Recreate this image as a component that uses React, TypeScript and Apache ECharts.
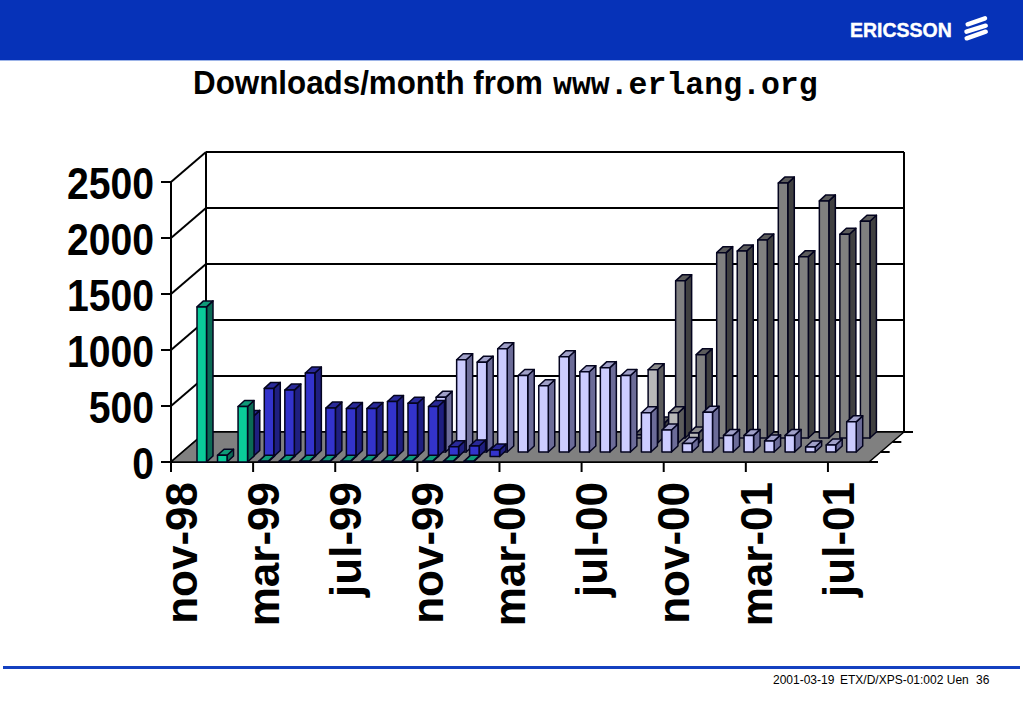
import React, { useEffect, useRef } from "react";
import * as echarts from "echarts";

const months = ["nov-98","dec-98","jan-99","feb-99","mar-99","apr-99","maj-99","jun-99","jul-99","aug-99","sep-99","okt-99","nov-99","dec-99","jan-00","feb-00","mar-00","apr-00","maj-00","jun-00","jul-00","aug-00","sep-00","okt-00","nov-00","dec-00","jan-01","feb-01","mar-01","apr-01","maj-01","jun-01","jul-01","aug-01"];
const yTicks = [0, 500, 1000, 1500, 2000, 2500];

// one list per depth row, front to back, starting at nov-98
const greenValues = [1385, 60, 496, 6, 6, 6, 6, 6, 6, 6, 6, 6, 6, 6];
const blueValues = [null, null, 358, 608, 593, 746, 432, 428, 428, 491, 475, 447, 88, 94, 58];
const lavenderValues = [null, null, null, null, null, null, null, null, null, null, null, 488, 824, 802, 922, 683, 591, 851, 717, 753, 683, 350, 197, 76, 354, 148, 148, 99, 148, 45, 63, 269];
const silverValues = [null, null, null, null, null, null, null, null, null, null, null, null, null, null, null, null, null, null, null, null, null, 654, 269, 90];
const greyValues = [null, null, null, null, null, null, null, null, null, null, null, null, null, null, null, null, null, null, null, null, 30, 135, 1403, 744, 1655, 1670, 1768, 2276, 1619, 2117, 1819, 1935];

const LEFT = 171, RIGHT = 154, TOP = 182, BOTTOM = 708 - 462;
const WALL_DX = 35, WALL_DY = 30;
const BAR_W = 9.5, BAR_DX = 6.5, BAR_DY = 6, BAR_LEAD = 26;
const OUTLINE = "#04041f";
const INK = "#000";

function rowSeries(name: string, values: (number | null)[], dx: number, dy: number, front: string, side: string, top: string, z: number) {
  return {
    type: "custom", name, z, silent: true, clip: false,
    data: values.map((v, i) => (v === null ? [i, "-"] : [i, v])),
    encode: { x: 0, y: 1 },
    renderItem: (_p: any, api: any) => {
      const v = api.value(1);
      if (isNaN(v)) return null;
      const i = api.value(0);
      const band = api.size([1, 0])[0];
      const base = api.coord([i, 0]);
      const peak = api.coord([i, v]);
      const x = base[0] - band / 2 + BAR_LEAD + dx;
      const y0 = base[1] - dy;
      const y1 = peak[1] - dy;
      const st = (fill: string) => ({ fill, stroke: OUTLINE, lineWidth: 1.5, lineJoin: "round" });
      return {
        type: "group",
        children: [
          { type: "polygon", shape: { points: [[x + BAR_W, y1], [x + BAR_W + BAR_DX, y1 - BAR_DY], [x + BAR_W + BAR_DX, y0 - BAR_DY], [x + BAR_W, y0]] }, style: st(side) },
          { type: "polygon", shape: { points: [[x, y1], [x + BAR_DX, y1 - BAR_DY], [x + BAR_W + BAR_DX, y1 - BAR_DY], [x + BAR_W, y1]] }, style: st(top) },
          { type: "rect", shape: { x, y: y1, width: BAR_W, height: y0 - y1 }, style: st(front) },
        ],
      };
    },
  };
}

const stageSeries = {
  type: "custom", name: "stage", z: 1, silent: true, clip: false,
  data: [[0, 0]],
  encode: { x: 0, y: 1 },
  renderItem: (_p: any, api: any) => {
    const band = api.size([1, 0])[0];
    const x0 = api.coord([0, 0])[0] - band / 2;
    const x1 = api.coord([months.length - 1, 0])[0] + band / 2;
    const line = (a: number, b: number, c: number, d: number) => ({ type: "line", shape: { x1: a, y1: b, x2: c, y2: d }, style: { stroke: INK, lineWidth: 2 } });
    const children: any[] = [];
    yTicks.forEach((t) => {
      const y = api.coord([0, t])[1];
      children.push(line(x0, y, x0 + WALL_DX, y - WALL_DY));
      children.push(line(x0 + WALL_DX, y - WALL_DY, x1 + WALL_DX, y - WALL_DY));
      children.push(line(x0 - 10, y, x0, y));
      children.push({
        type: "text", x: x0 - 17, y: y + 2, scaleX: 0.87,
        style: { text: String(t), fill: INK, font: "bold 45px 'Liberation Sans'", align: "right", verticalAlign: "middle" },
      });
    });
    const yb = api.coord([0, 0])[1], yt = api.coord([0, 2500])[1];
    children.push(line(x0, yb, x0, yt));
    children.push(line(x0 + WALL_DX, yb - WALL_DY, x0 + WALL_DX, yt - WALL_DY));
    children.push(line(x1 + WALL_DX, yb - WALL_DY, x1 + WALL_DX, yt - WALL_DY));
    children.push({
      type: "polygon",
      shape: { points: [[x0, yb], [x1, yb], [x1 + WALL_DX, yb - WALL_DY], [x0 + WALL_DX, yb - WALL_DY]] },
      style: { fill: "#808080", stroke: INK, lineWidth: 1.4 },
    });
    [0, 1, 2, 3].forEach((k) => {
      const f = k / 3;
      const px = x1 + WALL_DX * f, py = yb - WALL_DY * f;
      children.push(line(px, py, px + 9, py));
    });
    months.forEach((_m, i) => {
      if (i % 4 === 0) {
        const x = api.coord([i, 0])[0] - band / 2;
        children.push(line(x, yb, x, yb + 10));
      }
    });
    return { type: "group", children };
  },
};

const logoBars = [[967.7, 24.3, 985, 18.3], [966.5, 31.7, 985.7, 25.7], [966.7, 38.3, 985.7, 31.7]];

export default function App() {
  const ref = useRef<HTMLDivElement>(null);
  useEffect(() => {
    document.body.style.margin = "0";
    document.body.style.overflow = "hidden";
    const chart = echarts.init(ref.current!, undefined, { renderer: "svg" });
    chart.setOption({
      animation: false,
      backgroundColor: "#fff",
      grid: { left: LEFT, right: RIGHT, top: TOP, bottom: BOTTOM },
      xAxis: {
        type: "category", data: months,
        axisLine: { onZero: false, lineStyle: { color: INK, width: 2 } },
        axisTick: { show: false },
        axisLabel: { interval: 3, rotate: 90, margin: 20, color: INK, fontFamily: "Liberation Sans", fontWeight: "bold", fontSize: 44 },
        splitLine: { show: false },
      },
      yAxis: {
        type: "value", min: 0, max: 2500, interval: 500,
        axisLine: { show: false },
        axisTick: { show: false },
        axisLabel: { show: false },
        splitLine: { show: false },
      },
      series: [
        stageSeries,
        rowSeries("grey", greyValues, 27, 24, "#808080", "#404040", "#5c5c5c", 2),
        rowSeries("silver", silverValues, 20, 19, "#b8b8b8", "#5c5c5c", "#8c8c8c", 3),
        rowSeries("lavender", lavenderValues, 13.3, 10, "#ccccff", "#6c6c98", "#a0a0c8", 4),
        rowSeries("blue", blueValues, 5.7, 5.5, "#3333cc", "#1f1f80", "#292999", 5),
        rowSeries("green", greenValues, 0, 0, "#0acb99", "#0a6b55", "#0f9a78", 6),
      ],
      graphic: [
        { type: "rect", shape: { x: 0, y: 0, width: 1023, height: 60 }, style: { fill: "#0632b8" } },
        { type: "rect", shape: { x: 0, y: 60, width: 1023, height: 1 }, style: { fill: "#9db4e8" } },
        { type: "text", x: 850, y: 30, style: { text: "ERICSSON", fill: "#fff", stroke: "#fff", lineWidth: 0.4, font: "bold 19.5px 'Liberation Sans'", verticalAlign: "middle" } },
        ...logoBars.map((b) => ({ type: "line", shape: { x1: b[0], y1: b[1], x2: b[2], y2: b[3] }, style: { stroke: "#fff", lineWidth: 4.5, lineCap: "round" } })),
        { type: "text", x: 193, y: 83, scaleX: 0.95, style: { text: "Downloads/month from", fill: INK, font: "bold 33px 'Liberation Sans'", verticalAlign: "middle" } },
        { type: "text", x: 553, y: 85, style: { text: "www.erlang.org", fill: INK, font: "bold 31.5px 'Liberation Mono'", verticalAlign: "middle" } },
        { type: "rect", shape: { x: 3, y: 666, width: 1017, height: 3 }, style: { fill: "#1440c0" } },
        { type: "text", x: 773, y: 680, style: { text: "2001-03-19", fill: INK, font: "12px 'Liberation Sans'", verticalAlign: "middle" } },
        { type: "text", x: 840, y: 680, style: { text: "ETX/D/XPS-01:002 Uen", fill: INK, font: "12px 'Liberation Sans'", verticalAlign: "middle" } },
        { type: "text", x: 976, y: 680, style: { text: "36", fill: INK, font: "12px 'Liberation Sans'", verticalAlign: "middle" } },
      ],
    });
    return () => chart.dispose();
  }, []);
  return <div ref={ref} style={{ width: 1023, height: 708 }} />;
}
